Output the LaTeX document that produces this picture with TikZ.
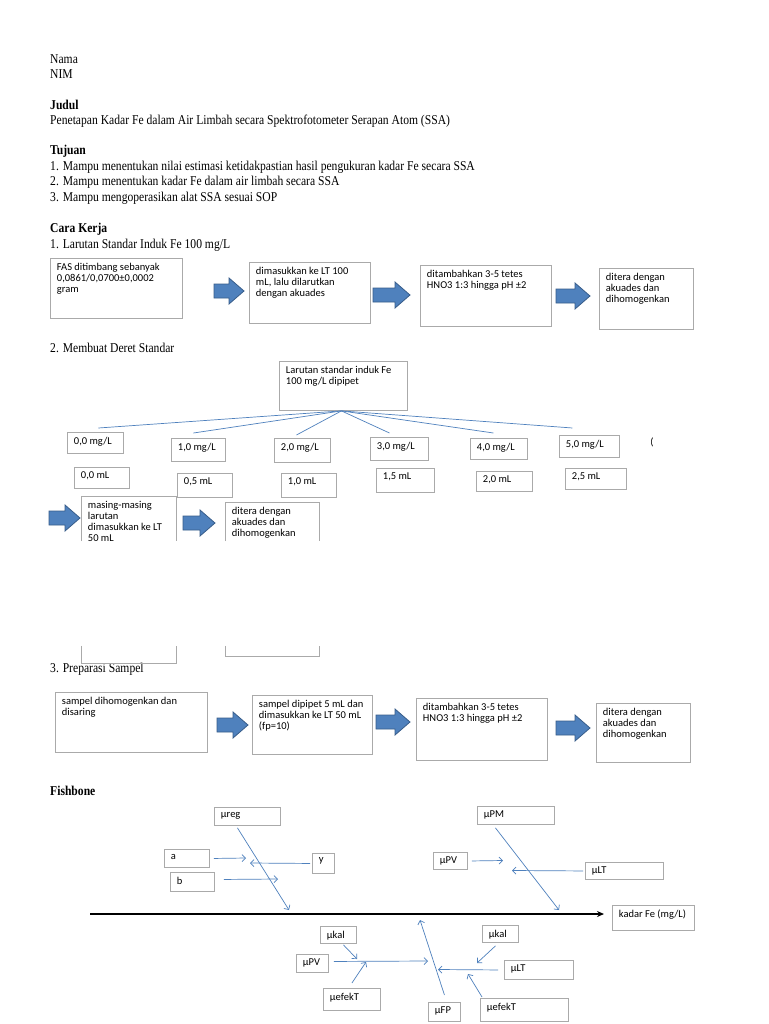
\documentclass[tikz,border=0pt]{standalone}
\usepackage{fontspec}
\setmainfont[FakeStretch=0.86]{Liberation Serif}
\newfontfamily\boxfont{Carlito}
\usetikzlibrary{arrows.meta}
\definecolor{arrowblue}{RGB}{79,129,189}
\definecolor{arrowedge}{RGB}{56,93,138}
\definecolor{lineblue}{RGB}{79,129,189}
\definecolor{boxgray}{RGB}{170,170,170}
\tikzset{
  boxline/.style={draw=boxgray, line width=0.9pt},
  box/.style={boxline, inner xsep=6.5pt, inner ysep=4.5pt, anchor=north west,
    font=\boxfont\fontsize{10.5}{11}\selectfont},
  nobox/.style={box, draw=none},
  txt/.style={anchor=base west, inner sep=0pt, font=\fontsize{13.5}{15}\selectfont},
  head/.style={txt, font=\fontsize{13.5}{15}\selectfont\bfseries},
  fan/.style={draw=lineblue, line width=0.7pt},
  fb/.style={draw=lineblue, line width=0.7pt, -{Straight Barb[length=3.5pt,width=7pt]}},
  axis/.style={draw=black, line width=1.8pt, -{Stealth[length=7pt,width=6pt]}},
  blockarrow/.style={fill=arrowblue, draw=arrowedge, line width=0.8pt}
}
% name, x, y, width, height, text
\newcommand\bx[6]{\node[box] (#1) at (#2,#3) {\parbox[t][\dimexpr#5pt-9pt\relax][t]{\dimexpr#4pt-13pt\relax}{\raggedright #6}};}
\newcommand\bxn[6]{\node[nobox] (#1) at (#2,#3) {\parbox[t][\dimexpr#5pt-9pt\relax][t]{\dimexpr#4pt-13pt\relax}{\raggedright #6}};}
% left x, centre y, length
\newcommand\barrow[3]{\draw[blockarrow] (#1,#2-7) -- (#1+#3-15,#2-7) -- (#1+#3-15,#2-13) -- (#1+#3,#2) -- (#1+#3-15,#2+13) -- (#1+#3-15,#2+7) -- (#1,#2+7) -- cycle;}
\begin{document}
\begin{tikzpicture}[x=1pt,y=-1pt]
\fill[white] (0,0) rectangle (768,1024);
\useasboundingbox (0,0) rectangle (768,1024);

% ---------- header text ----------
\node[txt] (nama) at (50,64) {Nama};
\node[txt] (nim) at (50,79) {NIM};
\node[head] (judul) at (50,109.5) {Judul};
\node[txt] (jtext) at (50,125) {Penetapan Kadar Fe dalam Air Limbah secara Spektrofotometer Serapan Atom (SSA)};
\node[head] (tujuan) at (50,155) {Tujuan};
\node[txt] (t1) at (50,170.5) {1. Mampu menentukan nilai estimasi ketidakpastian hasil pengukuran kadar Fe secara SSA};
\node[txt] (t2) at (50,186) {2. Mampu menentukan kadar Fe dalam air limbah secara SSA};
\node[txt] (t3) at (50,201.5) {3. Mampu mengoperasikan alat SSA sesuai SOP};
\node[head] (cara) at (50,232.5) {Cara Kerja};
\node[txt] (ck1) at (50,248) {1. Larutan Standar Induk Fe 100 mg/L};
\node[txt] (ck2) at (50,352.5) {2. Membuat Deret Standar};
\node[txt] (ck3) at (50,672.5) {3. Preparasi Sampel};
\node[head] (fish) at (50,795) {Fishbone};

% ---------- section 1 ----------
\bx{s1a}{50}{258}{132}{60}{FAS ditimbang sebanyak\\0,0861/0,0700±0,0002\\gram}
\bx{s1b}{249}{262}{121}{61}{dimasukkan ke LT 100\\mL, lalu dilarutkan\\dengan akuades}
\bx{s1c}{420}{265}{131}{61}{ditambahkan 3-5 tetes\\HNO3 1:3 hingga pH ±2}
\bx{s1d}{599}{268}{94}{61}{ditera dengan\\akuades dan\\dihomogenkan}
\barrow{214}{291}{30}
\barrow{373}{295}{37}
\barrow{556}{296}{34}

% ---------- section 2 ----------
\bx{induk}{279}{361}{128}{49}{Larutan standar induk Fe\\100 mg/L dipipet}
\bx{m0}{67}{432}{56}{21}{0,0 mg/L}
\bx{m1}{171}{438}{54}{23}{1,0 mg/L}
\bx{m2}{274}{438}{56}{24}{2,0 mg/L}
\bx{m3}{370}{437}{58}{23}{3,0 mg/L}
\bx{m4}{470}{438}{57}{21}{4,0 mg/L}
\bx{m5}{559}{435}{60}{22}{5,0 mg/L}
\bx{v0}{74}{467}{55}{21}{0,0 mL}
\bx{v1}{177}{473}{55}{24}{0,5 mL}
\bx{v2}{281}{473}{55}{24}{1,0 mL}
\bx{v3}{376}{468}{58}{24}{1,5 mL}
\bx{v4}{476}{471}{56}{20}{2,0 mL}
\bx{v5}{565}{468}{61}{21}{2,5 mL}
\node[font=\boxfont\fontsize{10.5}{11}\selectfont, inner sep=0pt] (paren) at (652,442) {(};

\draw[fan] ([xshift=-2pt]induk.south) -- ([xshift=3pt,yshift=4pt]m0.north);
\draw[fan] ([xshift=-2pt]induk.south) -- ([xshift=-5pt,yshift=5pt]m1.north);
\draw[fan] ([xshift=-2pt]induk.south) -- ([xshift=-6pt,yshift=3pt]m2.north);
\draw[fan] ([xshift=-2pt]induk.south) -- ([xshift=-10pt,yshift=4pt]m3.north);
\draw[fan] ([xshift=-2pt]induk.south) -- ([xshift=-5.5pt,yshift=5pt]m4.north);
\draw[fan] ([xshift=-2pt]induk.south) -- ([xshift=-17pt,yshift=7pt]m5.north);

\barrow{49}{518}{31}
\bxn{masing}{81}{496}{95}{167}{masing-masing\\larutan\\dimasukkan ke LT\\50 mL}
\draw[boxline] ([yshift=-45pt]masing.north west) -- (masing.north west) -- (masing.north east) -- ([yshift=-45pt]masing.north east);
\draw[boxline] ([yshift=18pt]masing.south west) -- (masing.south west) -- (masing.south east) -- ([yshift=18pt]masing.south east);
\barrow{183}{523}{32}
\bxn{tera}{225}{502}{94}{154}{ditera dengan\\akuades dan\\dihomogenkan}
\draw[boxline] ([yshift=-39pt]tera.north west) -- (tera.north west) -- (tera.north east) -- ([yshift=-39pt]tera.north east);
\draw[boxline] ([yshift=11pt]tera.south west) -- (tera.south west) -- (tera.south east) -- ([yshift=11pt]tera.south east);

% ---------- section 3 ----------
\bx{s3a}{55}{692}{152}{60}{sampel dihomogenkan dan\\disaring}
\bx{s3b}{252}{695}{120}{59}{sampel dipipet 5 mL dan\\dimasukkan ke LT 50 mL\\(fp=10)}
\bx{s3c}{416}{698}{131}{62}{ditambahkan 3-5 tetes\\HNO3 1:3 hingga pH ±2}
\bx{s3d}{596}{703}{94}{59}{ditera dengan\\akuades dan\\dihomogenkan}
\barrow{217}{725}{31}
\barrow{376}{722}{34}
\barrow{556}{728}{34}

% ---------- fishbone ----------
\bx{mureg}{214}{807}{66}{18}{μreg}
\bx{an}{164}{849}{45}{18}{a}
\bx{bn}{170}{872}{44}{19}{b}
\bx{yb}{312}{853}{22}{20}{y}
\bx{pm}{477}{806}{77}{18}{μPM}
\bx{pv1}{433}{852}{34}{17}{μPV}
\bx{lt1}{585}{862}{78}{17}{μLT}
\bx{kadar}{612}{905}{82}{25}{kadar Fe (mg/L)}
\bx{kal1}{320}{926}{36}{17}{μkal}
\bx{pv2}{296}{954}{32}{18}{μPV}
\bx{ef1}{323}{988}{57}{22}{μefekT}
\bx{fp}{428}{1002}{32}{19}{μFP}
\bx{ef2}{480}{998}{88}{23}{μefekT}
\bx{kal2}{482}{925}{36}{17}{μkal}
\bx{lt2}{504}{960}{69}{19}{μLT}

\coordinate (axs) at (90,914);
\coordinate (axe) at (604,914);
\draw[axis] (axs) -- (axe);

\coordinate (r1) at (289,910);
\coordinate (ea) at (246,858);
\coordinate (ey) at (250,863);
\coordinate (eb) at (278,879);
\coordinate (r2) at (559,910);
\coordinate (epv1) at (503,860.5);
\coordinate (elt1) at (512,870.5);
\coordinate (r3) at (420,920);
\coordinate (epv2) at (428,961);
\coordinate (ek1) at (357,959);
\coordinate (ee1) at (366,962);
\coordinate (elt2) at (438,969.5);
\coordinate (ek2) at (477,963);
\coordinate (ee2) at (468,974);

\draw[fb] ([xshift=-10pt,yshift=-2pt]mureg.south) -- (r1);
\draw[fb] ([xshift=4pt]an.east) -- (ea);
\draw[fb] ([xshift=-2pt]yb.west) -- (ey);
\draw[fb] ([xshift=9pt,yshift=2.5pt]bn.east) -- (eb);
\draw[fb] ([xshift=-20.5pt,yshift=-3pt]pm.south) -- (r2);
\draw[fb] ([xshift=4pt]pv1.east) -- (epv1);
\draw[fb] ([xshift=-2pt]lt1.west) -- (elt1);
\draw[fb] ([yshift=7pt]fp.north) -- (r3);
\draw[fb] ([xshift=5pt,yshift=2pt]pv2.east) -- (epv2);
\draw[fb] ([xshift=5pt,yshift=-1pt]kal1.south) -- (ek1);
\draw[fb] ([yshift=5pt]ef1.north) -- (ee1);
\draw[fb] ([xshift=-6pt]lt2.west) -- (elt2);
\draw[fb] ([xshift=-5pt,yshift=-3pt]kal2.south) -- (ek2);
\draw[fb] ([xshift=2pt,yshift=1pt]ef2.north west) -- (ee2);
\end{tikzpicture}
\end{document}
